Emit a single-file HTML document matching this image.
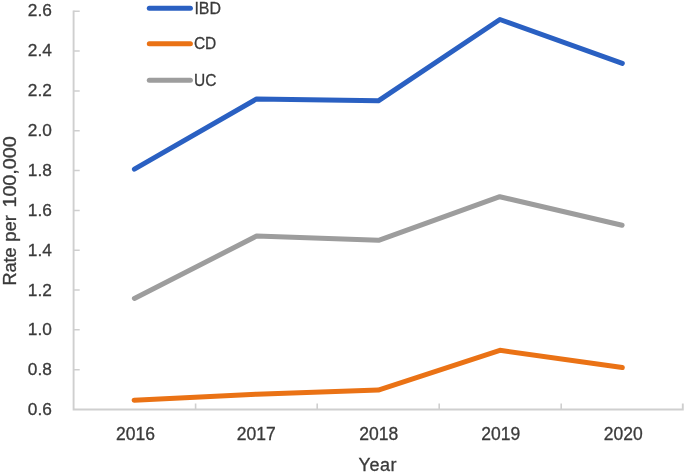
<!DOCTYPE html>
<html>
<head>
<meta charset="utf-8">
<title>Rate per 100,000 by Year</title>
<style>
html,body{margin:0;padding:0;background:#fff;}
body{width:685px;height:473px;overflow:hidden;}
svg{display:block;}
text{font-family:"Liberation Sans",Arial,sans-serif;fill:#3a3a3a;stroke:#3a3a3a;stroke-width:0.3px;}
</style>
</head>
<body>
<svg width="685" height="473" viewBox="0 0 685 473">
<rect width="685" height="473" fill="#fff"/>

<g stroke="#cfcfcf" fill="none">
<path stroke-width="1.9" d="M73.6 10.55V409.5H682.8V403.6"/>
<path stroke-width="1.5" d="M73.6 11.3H79.7M73.6 51.12H79.7M73.6 90.94H79.7M73.6 130.76H79.7M73.6 170.58H79.7M73.6 210.4H79.7M73.6 250.22H79.7M73.6 290.04H79.7M73.6 329.86H79.7M73.6 369.68H79.7"/>
<path stroke-width="1.6" d="M195.6 409.5V403.6M317.2 409.5V403.6M439.2 409.5V403.6M561.2 409.5V403.6"/>
</g>
<g font-size="17.3" text-anchor="end">
<text x="51.8" y="16.2">2.6</text>
<text x="51.8" y="56.1">2.4</text>
<text x="51.8" y="96">2.2</text>
<text x="51.8" y="135.9">2.0</text>
<text x="51.8" y="175.8">1.8</text>
<text x="51.8" y="215.7">1.6</text>
<text x="51.8" y="255.6">1.4</text>
<text x="51.8" y="295.5">1.2</text>
<text x="51.8" y="335.4">1.0</text>
<text x="51.8" y="375.3">0.8</text>
<text x="51.8" y="415.2">0.6</text>
</g>
<g font-size="17.5" text-anchor="middle">
<text x="135.45" y="439.6">2016</text>
<text x="256.3" y="439.6">2017</text>
<text x="378.7" y="439.6">2018</text>
<text x="500.7" y="439.6">2019</text>
<text x="623.3" y="439.6">2020</text>
</g>
<text x="377.5" y="470.9" font-size="18" text-anchor="middle" textLength="37.8">Year</text>
<g transform="translate(15.55 0) rotate(-90)" font-size="18">
<text x="-285.6" y="0" textLength="38.2" lengthAdjust="spacingAndGlyphs">Rate</text>
<text x="-241.7" y="0" textLength="26.7" lengthAdjust="spacingAndGlyphs">per</text>
<text x="-207.6" y="0" textLength="71.4" lengthAdjust="spacingAndGlyphs">100,000</text>
</g>
<g fill="none" stroke-width="5.0" stroke-linecap="round" stroke-linejoin="round">
<polyline stroke="#2a60c2" points="134.4,169.2 256.6,98.9 378.3,100.85 499.9,19.5 622.3,63.4"/>
<polyline stroke="#ea7215" points="134.1,400.2 256.6,394.2 378.3,390.1 499.9,350.3 622.3,367.6"/>
<polyline stroke="#9d9d9d" points="134.4,298.4 256.6,236.1 378.6,240.3 499.8,196.7 622.1,225.2"/>
</g>
<g fill="none" stroke-width="5.0" stroke-linecap="round">
<path stroke="#2a60c2" d="M149.3 8.25H190.4"/>
<path stroke="#ea7215" d="M149.3 43.7H190.4"/>
<path stroke="#9d9d9d" d="M149.3 80.3H190.4"/>
</g>
<g font-size="17.4" lengthAdjust="spacingAndGlyphs">
<text x="194.4" y="13.6" textLength="26.6" lengthAdjust="spacingAndGlyphs">IBD</text>
<text x="193.9" y="49.4" textLength="22.4" lengthAdjust="spacingAndGlyphs">CD</text>
<text x="194.0" y="86.0" textLength="22.4" lengthAdjust="spacingAndGlyphs">UC</text>
</g>
</svg>
</body>
</html>
